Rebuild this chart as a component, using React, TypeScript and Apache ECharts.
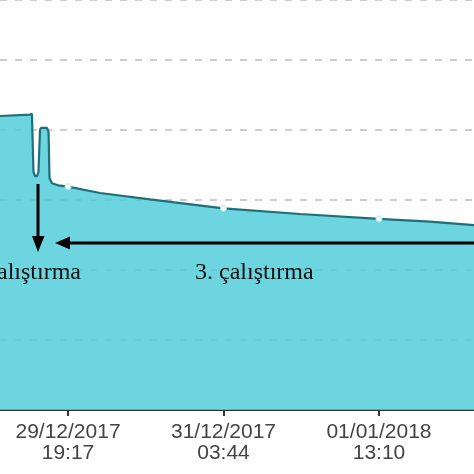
import React, { useEffect, useRef } from "react";
import * as echarts from "echarts";

// sample position (index units) and value (arbitrary units)
const xs = [5.0, 5.63, 7.56, 7.68, 7.78, 7.88, 8.01, 8.1, 8.2, 8.26, 8.65, 8.75, 8.81, 8.97, 9.36, 10, 12.06, 15.27, 20, 24.92, 30, 33.28, 36.11, 37.14];
const ys = [41.9, 42.0, 42.2, 42.3, 34.0, 33.4, 33.4, 34.0, 40.0, 40.3, 40.3, 39.7, 33.1, 32.4, 32.1, 31.9, 31.0, 30.1, 28.8, 28.0, 27.3, 26.9, 26.4, 26.3];
const tickPositions = [10, 20, 30];
const tickLabels = ["29/12/2017\n19:17", "31/12/2017\n03:44", "01/01/2018\n13:10"];
const runLabels = ["2. çalıştırma", "3. çalıştırma"];

export default function App() {
  const ref = useRef<HTMLDivElement>(null);
  useEffect(() => {
    const chart = echarts.init(ref.current!, undefined, { renderer: "svg" });
    const data = xs.map((x, i) => {
      const marked = tickPositions.includes(x);
      return {
        value: [x, ys[i]],
        symbol: marked ? "circle" : "none",
        symbolSize: 6,
      };
    });
    chart.setOption({
      animation: false,
      grid: { left: 0, right: 0, top: 0, bottom: 64, containLabel: false },
      xAxis: {
        type: "value",
        min: 5.627,
        max: 36.11,
        axisLine: { show: true, lineStyle: { color: "#333", width: 2 } },
        axisTick: { show: true, length: 6, customValues: tickPositions, lineStyle: { color: "#333", width: 2 } },
        axisLabel: {
          customValues: tickPositions,
          formatter: (v: number) => tickLabels[tickPositions.indexOf(v)] ?? "",
          fontFamily: "Liberation Sans, Arial, sans-serif",
          fontSize: 21,
          lineHeight: 21,
          color: "#444",
          margin: 10,
        },
        splitLine: { show: false },
      },
      yAxis: {
        type: "value",
        min: 0,
        max: 58.57,
        interval: 10,
        axisLine: { show: false },
        axisTick: { show: false },
        axisLabel: { show: false },
        splitLine: { show: true, lineStyle: { color: "#bdbdbd", width: 1.5, type: [7, 8] } },
      },
      series: [
        {
          type: "line",
          data,
          clip: true,
          lineStyle: { color: "#1f6f78", width: 2.2 },
          itemStyle: { color: "#effcfd", borderColor: "#a6e9ef", borderWidth: 1 },
          areaStyle: { color: "#53ceda", opacity: 0.85 },
          z: 2,
        },
      ],
      graphic: [
        { type: "line", shape: { x1: 38, y1: 184, x2: 38, y2: 240 }, style: { stroke: "#000", lineWidth: 3 }, z: 10 },
        { type: "polygon", shape: { points: [[32, 236], [44.5, 236], [38, 252]] }, style: { fill: "#000" }, z: 10 },
        { type: "line", shape: { x1: 66, y1: 243, x2: 480, y2: 243 }, style: { stroke: "#000", lineWidth: 3 }, z: 10 },
        { type: "polygon", shape: { points: [[55, 243], [70, 236.5], [70, 249.5]] }, style: { fill: "#000" }, z: 10 },
        {
          type: "text", x: 81, y: 283, z: 10,
          style: { text: runLabels[0], align: "right", verticalAlign: "bottom", font: "24px 'Liberation Serif', 'Times New Roman', serif", fill: "#111" },
        },
        {
          type: "text", x: 195, y: 283, z: 10,
          style: { text: runLabels[1], align: "left", verticalAlign: "bottom", font: "24px 'Liberation Serif', 'Times New Roman', serif", fill: "#111" },
        },
      ],
    });
    return () => chart.dispose();
  }, []);
  return <div ref={ref} style={{ position: "fixed", left: 0, top: 0, width: 474, height: 474 }} />;
}
